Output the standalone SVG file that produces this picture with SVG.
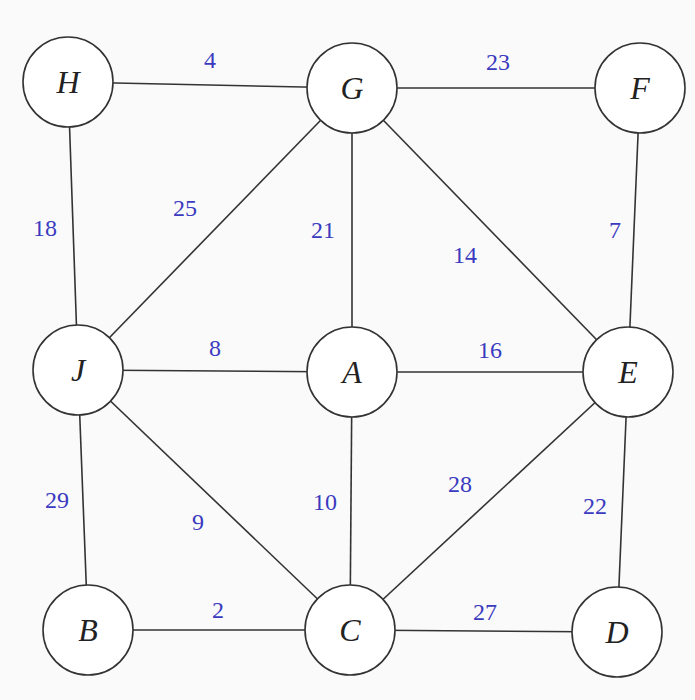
<svg xmlns="http://www.w3.org/2000/svg" width="695" height="700" viewBox="0 0 695 700">
<style>
.e{stroke:#333;stroke-width:1.6}
.n circle{fill:#fff;stroke:#333;stroke-width:1.6}
.n text{font-family:"Liberation Serif",serif;font-style:italic;font-size:32px;fill:#222;text-anchor:middle;dominant-baseline:central}
.w{font-family:"Liberation Serif",serif;font-size:24px;fill:#3a3ac0;text-anchor:middle;dominant-baseline:central}
</style>
<rect width="695" height="700" fill="#fafafa"/>
<g id="edges">
<line class="e" x1="68" y1="82" x2="352" y2="88"/>
<line class="e" x1="352" y1="88" x2="640" y2="88"/>
<line class="e" x1="68" y1="82" x2="78" y2="370"/>
<line class="e" x1="352" y1="88" x2="78" y2="370"/>
<line class="e" x1="352" y1="88" x2="352" y2="372"/>
<line class="e" x1="352" y1="88" x2="628" y2="372"/>
<line class="e" x1="640" y1="88" x2="628" y2="372"/>
<line class="e" x1="78" y1="370" x2="352" y2="372"/>
<line class="e" x1="352" y1="372" x2="628" y2="372"/>
<line class="e" x1="78" y1="370" x2="88" y2="630"/>
<line class="e" x1="78" y1="370" x2="350" y2="630"/>
<line class="e" x1="352" y1="372" x2="350" y2="630"/>
<line class="e" x1="628" y1="372" x2="350" y2="630"/>
<line class="e" x1="628" y1="372" x2="617" y2="632"/>
<line class="e" x1="88" y1="630" x2="350" y2="630"/>
<line class="e" x1="350" y1="630" x2="617" y2="632"/>
</g>
<g id="weights">
<text class="w" x="210" y="60">4</text>
<text class="w" x="498" y="62">23</text>
<text class="w" x="45" y="228">18</text>
<text class="w" x="185" y="208">25</text>
<text class="w" x="323" y="230">21</text>
<text class="w" x="465" y="255">14</text>
<text class="w" x="615" y="230">7</text>
<text class="w" x="215" y="348">8</text>
<text class="w" x="490" y="350">16</text>
<text class="w" x="57" y="500">29</text>
<text class="w" x="198" y="522">9</text>
<text class="w" x="325" y="502">10</text>
<text class="w" x="460" y="484">28</text>
<text class="w" x="595" y="506">22</text>
<text class="w" x="218" y="610">2</text>
<text class="w" x="485" y="612">27</text>
</g>
<g id="H" class="n"><circle cx="68" cy="82" r="45"/><text x="68" y="82">H</text></g>
<g id="G" class="n"><circle cx="352" cy="88" r="45"/><text x="352" y="88">G</text></g>
<g id="F" class="n"><circle cx="640" cy="88" r="45"/><text x="640" y="88">F</text></g>
<g id="J" class="n"><circle cx="78" cy="370" r="45"/><text x="78" y="370">J</text></g>
<g id="A" class="n"><circle cx="352" cy="372" r="45"/><text x="352" y="372">A</text></g>
<g id="E" class="n"><circle cx="628" cy="372" r="45"/><text x="628" y="372">E</text></g>
<g id="B" class="n"><circle cx="88" cy="630" r="45"/><text x="88" y="630">B</text></g>
<g id="C" class="n"><circle cx="350" cy="630" r="45"/><text x="350" y="630">C</text></g>
<g id="D" class="n"><circle cx="617" cy="632" r="45"/><text x="617" y="632">D</text></g>
</svg>
